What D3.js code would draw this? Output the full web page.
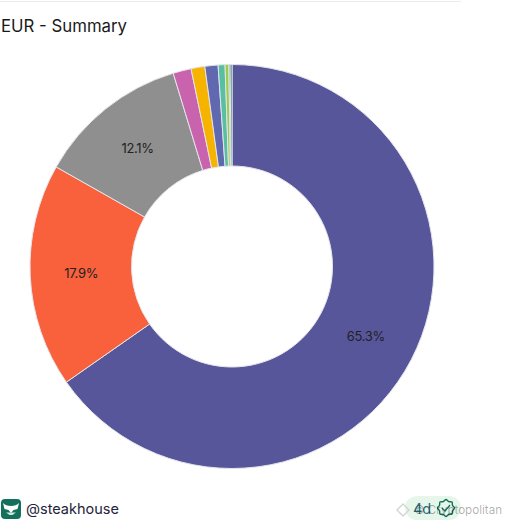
<!DOCTYPE html>
<html><head><meta charset="utf-8">
<script src="https://cdn.jsdelivr.net/npm/d3@7"></script>
<style>html,body{margin:0;padding:0;background:#fff}svg{display:block}text{font-family:"Inter","Liberation Sans",sans-serif}</style>
</head><body><svg id="c" width="510" height="527"></svg>
<script>
const categories = ["A","B","C","D","E","F","G","H","I","J"];
const shares = [65.3,17.9,12.1,1.45,1.1,1.05,0.55,0.3,0.1,0.15];
const colors = ["#57569b","#f9613d","#8f8f8f","#c963ad","#f6b400","#6069b0","#58bfa2","#9ccc4a","#3fa45c","#1f6f6a"];
const labelled = [true,true,true,false,false,false,false,false,false,false];
const title = "EUR - Summary", handle = "@steakhouse", badge = "4d", mark = "© Cryptopolitan";

const svg = d3.select("#c");
svg.append("rect").attr("x",0).attr("y",1).attr("width",461).attr("height",1).attr("fill","#ececec");
svg.append("text").attr("x",1).attr("y",32).attr("font-size",16.8).attr("fill","#1a1a1a").text(title);

const cx=232, cy=266.5, R=202, r0=100.5;
const pie=d3.pie().sort(null).value(d=>d.v);
const data=categories.map((c,i)=>({c,v:shares[i],col:colors[i],lab:labelled[i]}));
const arc=d3.arc().innerRadius(r0).outerRadius(R);
const labelArc=d3.arc().innerRadius(151).outerRadius(151);
const g=svg.append("g").attr("transform",`translate(${cx},${cy})`);
const arcs=pie(data);
g.selectAll("path").data(arcs).join("path").attr("d",arc).attr("fill",d=>d.data.col).attr("stroke","#e4e4ea").attr("stroke-width",1);
g.selectAll("text").data(arcs.filter(d=>d.data.lab)).join("text")
 .attr("transform",d=>`translate(${labelArc.centroid(d)})`)
 .attr("text-anchor","middle").attr("dy","0.35em").attr("font-size",13).attr("letter-spacing",-0.3).attr("fill","#222")
 .text(d=>d.data.v.toFixed(1)+"%");

// footer
const logo=svg.append("g").attr("transform","translate(1,499)");
logo.append("rect").attr("width",20).attr("height",20).attr("rx",4).attr("fill","#14705c");
logo.append("path").attr("d","M2 4 C5 8 15 8 18 4 L16.5 10 L12.5 11 L10 14 L7.5 11 L3.5 10 Z").attr("fill","#fff");
logo.append("path").attr("d","M5 13.5 L15 13.5 L11.5 16 L8.5 16 Z").attr("fill","#cfe5df");
svg.append("text").attr("x",26).attr("y",514).attr("font-size",14.5).attr("fill","#23233a").text(handle);

svg.append("rect").attr("x",405).attr("y",496).attr("width",56).attr("height",24).attr("rx",12).attr("fill","#e6f6ea");
svg.append("text").attr("x",413).attr("y",514).attr("font-size",14.5).attr("fill","#2a6a78").text(badge);
const seal=d3.lineRadial().curve(d3.curveCardinalClosed);
const sealPts=d3.range(16).map(i=>[i*Math.PI/8,i%2?7:8.5]);
svg.append("path").attr("transform","translate(446,508)").attr("d",seal(sealPts)).attr("fill","none").attr("stroke","#14705c").attr("stroke-width",1.4);
svg.append("path").attr("d","M442 508 l3 3 l5 -6").attr("fill","none").attr("stroke","#14705c").attr("stroke-width",1.3);
svg.append("path").attr("d","M403 504 l6 6 l-6 6 l-6 -6 Z").attr("fill","none").attr("stroke","#d4d4d4").attr("stroke-width",1.4);
svg.append("text").attr("x",414).attr("y",514).attr("font-size",11.6).attr("fill","#000").attr("fill-opacity",0.32).text(mark);
</script></body></html>
